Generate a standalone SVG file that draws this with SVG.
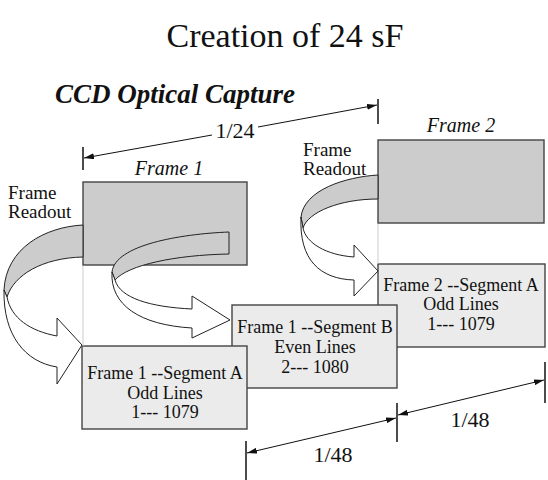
<svg xmlns="http://www.w3.org/2000/svg" width="548" height="480" viewBox="0 0 548 480">
<defs>
<style>
.serif{font-family:"Liberation Serif","Times New Roman",serif;fill:#111}
.frame{fill:#cccccc;stroke:#444;stroke-width:1.4}
.seg{fill:#ebebeb;stroke:#444;stroke-width:1.4}
.band{fill:#cccccc;stroke:#222;stroke-width:1}
.shaft{fill:#fff;stroke:#222;stroke-width:1}
.dim{stroke:#111;stroke-width:1;fill:none}
.tick{stroke:#111;stroke-width:1.5}
.guide{stroke:#cccccc;stroke-width:1}
</style>
<marker id="ah" viewBox="0 0 10 6" refX="10" refY="3" markerWidth="10" markerHeight="6" markerUnits="userSpaceOnUse" orient="auto-start-reverse">
<path d="M0,0 L10,3 L0,6 Z" fill="#111"/>
</marker>
</defs>
<rect width="548" height="480" fill="#fff"/>
<text class="serif" x="285" y="47" font-size="34" text-anchor="middle">Creation of 24 sF</text>
<text class="serif" x="55" y="103" font-size="27" font-weight="bold" font-style="italic">CCD Optical Capture</text>

<g id="frame1">
<rect class="frame" x="83" y="182" width="164" height="83"/>
<text class="serif" x="169" y="175" font-size="20" font-style="italic" text-anchor="middle">Frame 1</text>
</g>
<g id="frame2">
<rect class="frame" x="378" y="140" width="166" height="83"/>
<text class="serif" x="461" y="132" font-size="20" font-style="italic" text-anchor="middle">Frame 2</text>
</g>
<g id="readout1">
<text class="serif" x="8" y="199" font-size="19">Frame</text>
<text class="serif" x="8" y="218" font-size="19">Readout</text>
</g>
<g id="readout2">
<text class="serif" x="303" y="156" font-size="19">Frame</text>
<text class="serif" x="303" y="175" font-size="19">Readout</text>
</g>

<g id="frame2-segA">
<rect class="seg" x="378" y="264" width="167" height="83"/>
<text class="serif" x="461" y="291" font-size="18" text-anchor="middle">Frame 2 --Segment A</text>
<text class="serif" x="461" y="310" font-size="18" text-anchor="middle">Odd Lines</text>
<text class="serif" x="461" y="330" font-size="18" text-anchor="middle">1--- 1079</text>
</g>
<g id="frame1-segB">
<rect class="seg" x="232" y="305" width="165" height="83"/>
<text class="serif" x="315" y="333" font-size="18" text-anchor="middle">Frame 1 --Segment B</text>
<text class="serif" x="315" y="353" font-size="18" text-anchor="middle">Even Lines</text>
<text class="serif" x="315" y="373" font-size="18" text-anchor="middle">2--- 1080</text>
</g>
<g id="frame1-segA">
<rect class="seg" x="82" y="346" width="165" height="83"/>
<text class="serif" x="165" y="379" font-size="18" text-anchor="middle">Frame 1 --Segment A</text>
<text class="serif" x="165" y="399" font-size="18" text-anchor="middle">Odd Lines</text>
<text class="serif" x="165" y="418" font-size="18" text-anchor="middle">1--- 1079</text>
</g>

<g id="connectors">
<line class="guide" x1="83" y1="266" x2="83" y2="346"/>
<line class="guide" x1="378" y1="224" x2="378" y2="264"/>
<!-- curved arrow 1 -->
<path class="band" d="M83,225 C45,227 6,248 4,290 L7,297 C14,275 42,258 83,257 Z"/>
<path class="shaft" d="M4,290 C3,335 25,362 57,367 L57,384 L82,345 L57,318 L57,336 C30,331 11,318 7,297 Z"/>
<!-- curved arrow 2 -->
<path class="band" d="M229,232 C180,234 115,245 112,272 L115,280 C128,265 175,255 229,254 Z"/>
<path class="shaft" d="M112,272 C110,305 140,325 192,328 L192,338 L230,320 L192,296 L192,309 C150,307 120,298 115,280 Z"/>
<!-- curved arrow 3 -->
<path class="band" d="M378,175 C345,177 304,190 301,217 L303,228 C308,212 340,199 378,199 Z"/>
<path class="shaft" d="M301,217 C299,260 320,279 354,280 L354,296 L378,271 L354,245 L354,257 C326,255 306,243 303,228 Z"/>
<!-- dimension 1/24 -->
<line class="tick" x1="83" y1="147" x2="83" y2="170"/>
<line class="tick" x1="378" y1="99" x2="378" y2="124"/>
<line class="dim" x1="84" y1="158" x2="212" y2="135" marker-start="url(#ah)"/>
<line class="dim" x1="258" y1="127" x2="377" y2="105" marker-end="url(#ah)"/>
<text class="serif" x="235" y="138" font-size="22" text-anchor="middle">1/24</text>
<!-- dimension 1/48 -->
<line class="tick" x1="246" y1="441" x2="246" y2="480"/>
<line class="tick" x1="397" y1="403" x2="397" y2="442"/>
<line class="tick" x1="545" y1="362" x2="545" y2="403"/>
<line class="dim" x1="247" y1="453" x2="396" y2="418" marker-start="url(#ah)" marker-end="url(#ah)"/>
<line class="dim" x1="398" y1="415" x2="544" y2="380" marker-start="url(#ah)" marker-end="url(#ah)"/>
<text class="serif" x="333" y="462" font-size="22" text-anchor="middle">1/48</text>
<text class="serif" x="470" y="427" font-size="22" text-anchor="middle">1/48</text>
</g>
</svg>
